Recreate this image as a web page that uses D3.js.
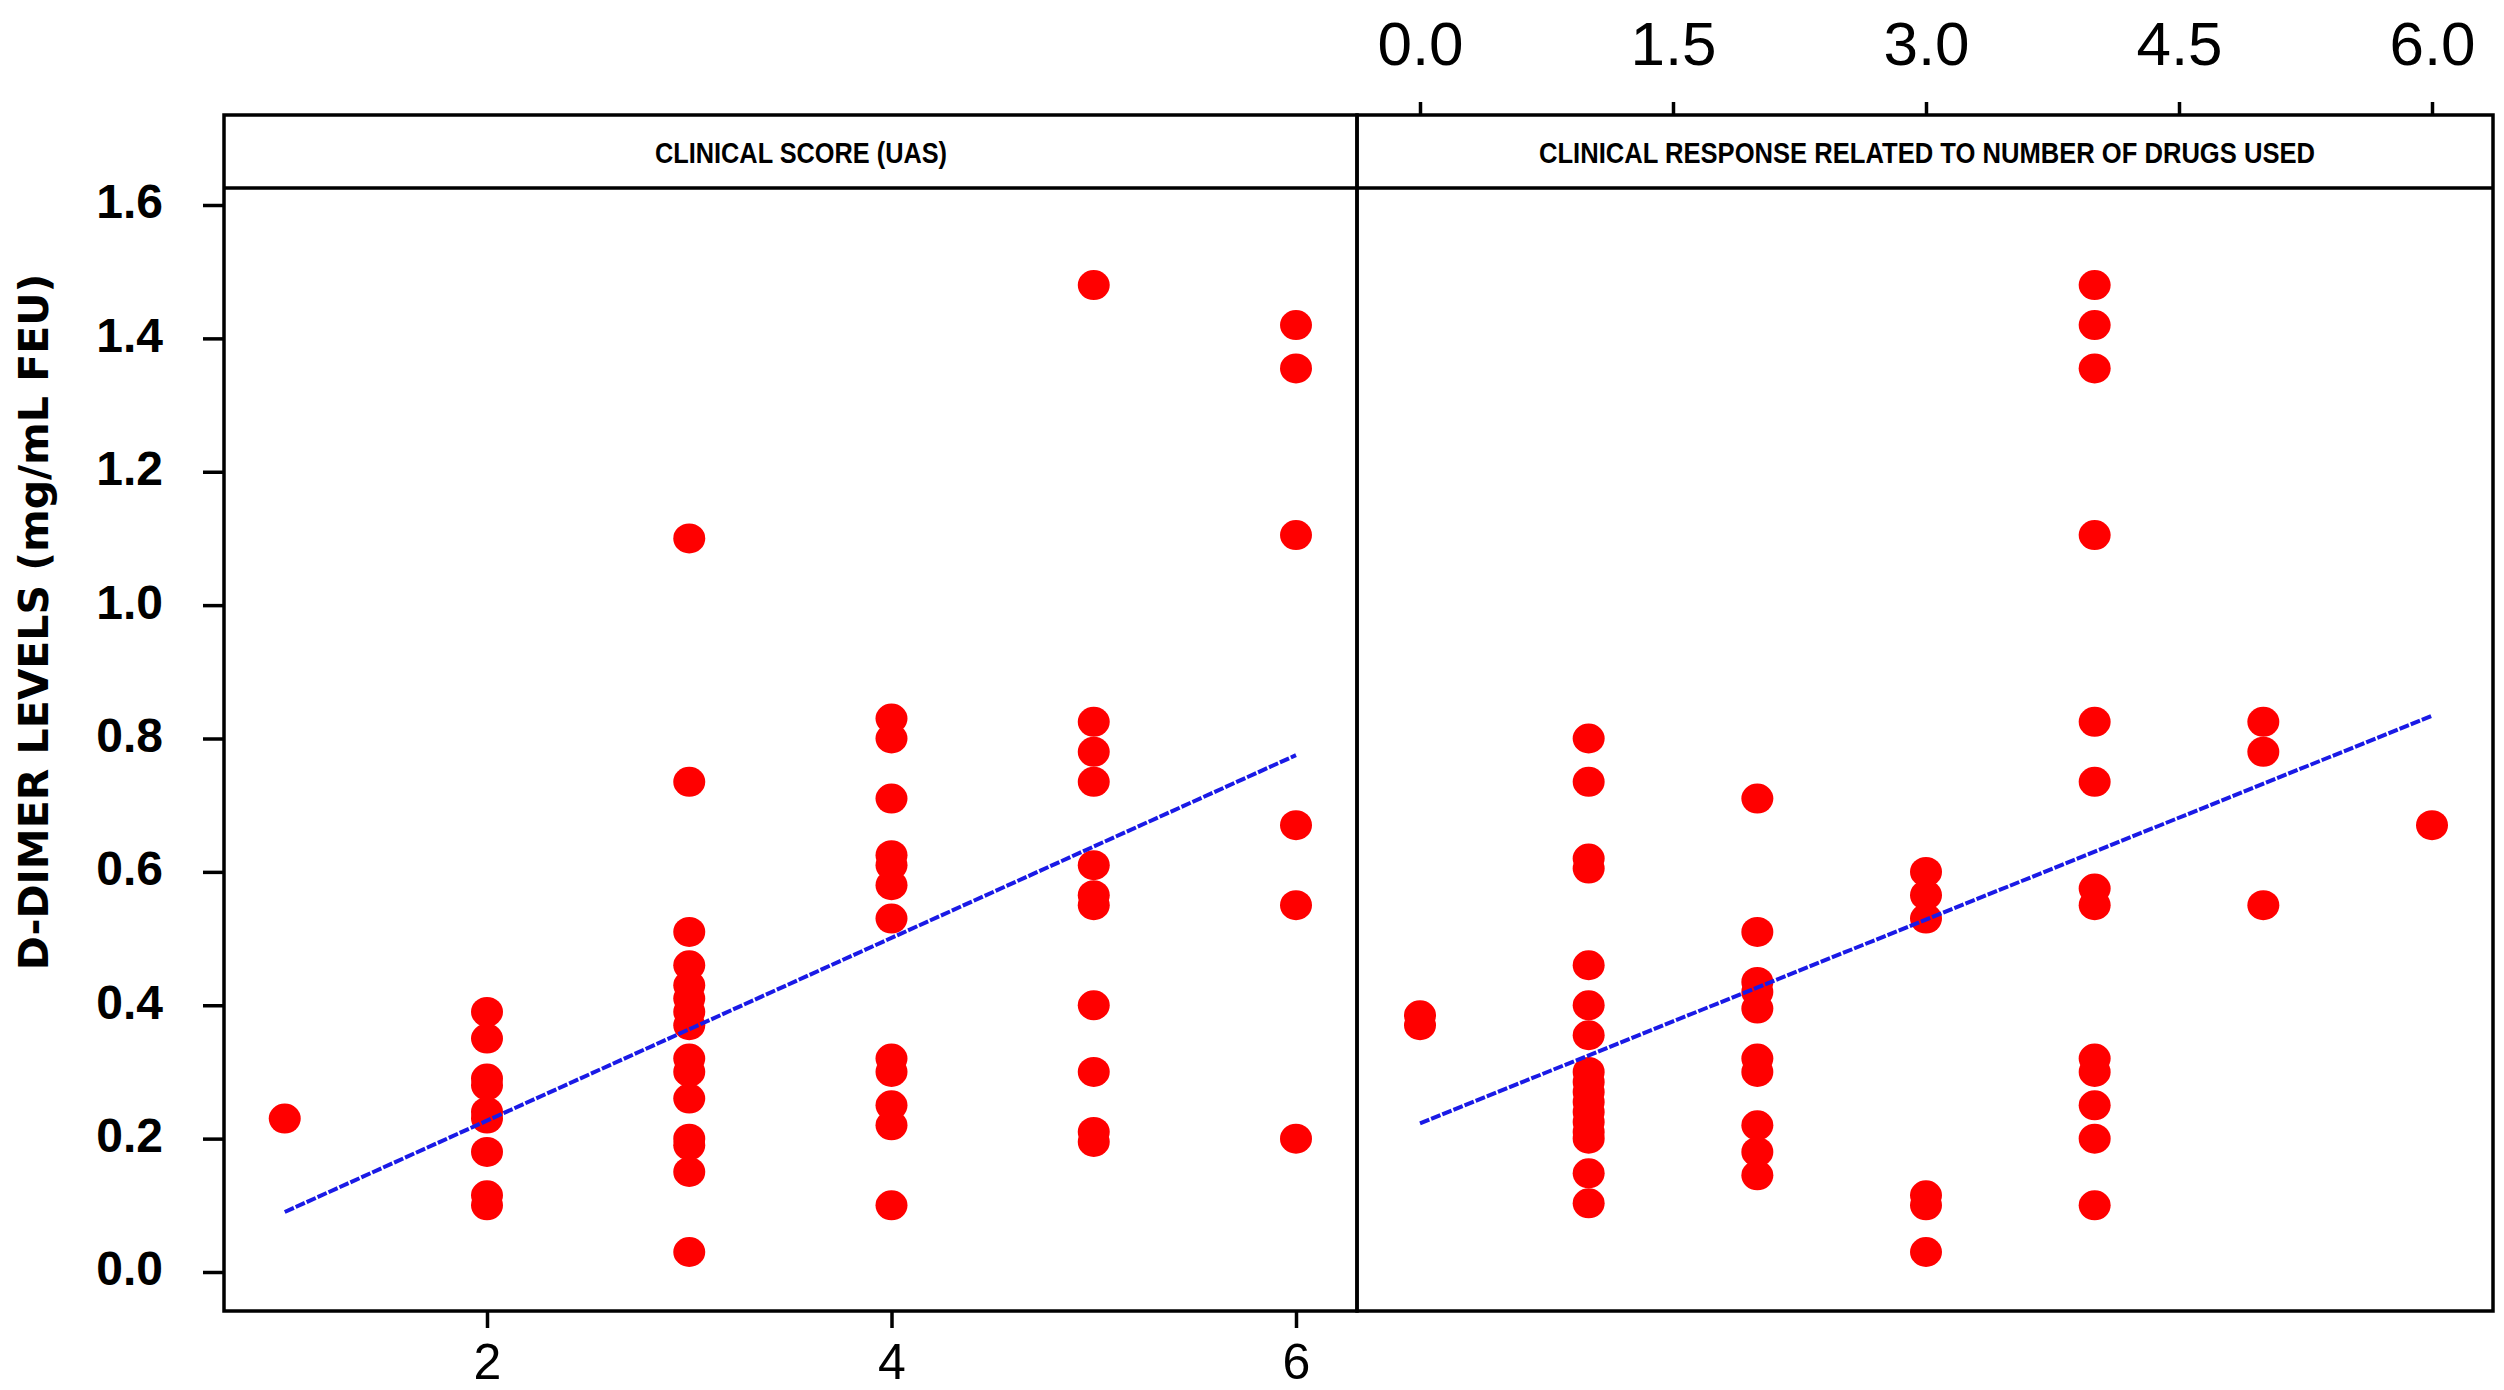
<!DOCTYPE html>
<html>
<head>
<meta charset="utf-8">
<script src="https://cdnjs.cloudflare.com/ajax/libs/d3/7.8.5/d3.min.js"></script>
<style>
  body { margin: 0; background: #fff; }
</style>
</head>
<body>
<div id="chart"></div>
<script>
// ---- data ----
const uasScores = [1, 2, 3, 4, 5, 6];
const uasDimer = [
  [0.23],
  [0.39, 0.35, 0.29, 0.28, 0.24, 0.23, 0.18, 0.115, 0.10],
  [1.10, 0.735, 0.51, 0.46, 0.43, 0.41, 0.39, 0.37, 0.32, 0.30, 0.26, 0.20, 0.19, 0.15, 0.03],
  [0.83, 0.80, 0.71, 0.625, 0.61, 0.58, 0.53, 0.32, 0.30, 0.25, 0.22, 0.10],
  [1.48, 0.825, 0.78, 0.735, 0.61, 0.565, 0.55, 0.40, 0.30, 0.21, 0.195],
  [1.42, 1.355, 1.105, 0.67, 0.55, 0.20]
];
const drugCounts = [0, 1, 2, 3, 4, 5, 6];
const drugDimer = [
  [0.385, 0.37],
  [0.80, 0.735, 0.62, 0.605, 0.46, 0.40, 0.355, 0.30, 0.285, 0.27, 0.255, 0.24, 0.225, 0.21, 0.20, 0.148, 0.103],
  [0.71, 0.51, 0.435, 0.42, 0.395, 0.32, 0.30, 0.22, 0.18, 0.145],
  [0.60, 0.565, 0.53, 0.115, 0.10, 0.03],
  [1.48, 1.42, 1.355, 1.105, 0.825, 0.735, 0.575, 0.55, 0.32, 0.30, 0.25, 0.20, 0.10],
  [0.825, 0.78, 0.55],
  [0.67]
];
// fitted lines (end points)
const uasFitX = [1, 6];
const uasFitY = [0.09, 0.775];
const drugFitX = [0, 6];
const drugFitY = [0.223, 0.834];

const yTicks = [0, 0.2, 0.4, 0.6, 0.8, 1.0, 1.2, 1.4, 1.6];
const uasTicks = [2, 4, 6];
const drugTicks = [0, 1.5, 3, 4.5, 6];
const panelTitles = ["CLINICAL SCORE (UAS)", "CLINICAL RESPONSE RELATED TO NUMBER OF DRUGS USED"];
const yTitle = "D-DIMER LEVELS (mg/mL FEU)";

// ---- layout ----
const W = 2504, H = 1390;
const panelTop = 115, stripBottom = 188, panelBottom = 1311;
const leftX0 = 224, midX = 1357, rightX1 = 2493;

const svg = d3.select('#chart').append('svg')
  .attr('width', W)
  .attr('height', H)
  .style('background-color', 'white');

let y = d3.scaleLinear().domain([0, 1.6]).range([1272, 205]);
let xL = d3.scaleLinear().domain([2, 6]).range([487, 1296]);
let xR = d3.scaleLinear().domain([0, 6]).range([1420, 2432]);

const narrow = '"Liberation Sans Narrow", "Arial Narrow", "Liberation Sans", sans-serif';

// panel boxes
[[leftX0, midX], [midX, rightX1]].forEach(function(p) {
  svg.append('rect')
    .attr('x', p[0]).attr('y', panelTop)
    .attr('width', p[1] - p[0]).attr('height', panelBottom - panelTop)
    .attr('fill', 'none').attr('stroke', '#000').attr('stroke-width', 3.5);
  svg.append('line')
    .attr('x1', p[0]).attr('x2', p[1])
    .attr('y1', stripBottom).attr('y2', stripBottom)
    .attr('stroke', '#000').attr('stroke-width', 3.5);
});

// strip titles
const stripCx = [801, 1927];
const stripW = [292, 776];
panelTitles.forEach(function(t, i) {
  svg.append('text')
    .attr('x', stripCx[i] - stripW[i] / 2)
    .attr('y', 163)
    .attr('textLength', stripW[i])
    .attr('lengthAdjust', 'spacingAndGlyphs')
    .style('font-family', narrow)
    .style('font-weight', 'bold')
    .style('font-size', '29px')
    .text(t);
});

// y axis (left)
const yAxis = svg.append('g')
  .attr('transform', 'translate(' + leftX0 + ',0)')
  .call(d3.axisLeft(y).tickValues(yTicks).tickSize(21).tickPadding(40).tickFormat(d3.format('.1f')));
yAxis.select('.domain').remove();
yAxis.selectAll('line').attr('stroke', '#000').attr('stroke-width', 3.5);
yAxis.selectAll('text')
  .attr('dy', '0.27em')
  .style('font-family', '"Liberation Sans", Arial, sans-serif')
  .style('font-weight', 'bold')
  .style('font-size', '48px')
  .attr('fill', '#000');

// bottom axis (left panel)
const xAxisB = svg.append('g')
  .attr('transform', 'translate(0,' + panelBottom + ')')
  .call(d3.axisBottom(xL).tickValues(uasTicks).tickSize(17).tickPadding(15).tickFormat(d3.format('d')));
xAxisB.select('.domain').remove();
xAxisB.selectAll('line').attr('stroke', '#000').attr('stroke-width', 3.5);
xAxisB.selectAll('text')
  .style('font-family', '"Liberation Sans", Arial, sans-serif')
  .style('font-size', '50px')
  .attr('fill', '#000');

// top axis (right panel)
const xAxisT = svg.append('g')
  .attr('transform', 'translate(0,' + panelTop + ')')
  .call(d3.axisTop(xR).tickValues(drugTicks).tickSize(13).tickPadding(37).tickFormat(d3.format('.1f')));
xAxisT.select('.domain').remove();
xAxisT.selectAll('line').attr('stroke', '#000').attr('stroke-width', 3.5);
xAxisT.selectAll('text')
  .style('font-family', '"Liberation Sans", Arial, sans-serif')
  .style('font-size', '62px')
  .attr('fill', '#000');

// y title
svg.append('text')
  .attr('transform', 'translate(48,622) rotate(-90)')
  .attr('text-anchor', 'middle')
  .style('font-family', '"DejaVu Sans", Verdana, sans-serif')
  .style('font-weight', 'bold')
  .style('font-size', '41px')
  .text(yTitle);

// points
const uasPts = uasScores.flatMap((s, i) => uasDimer[i].map(v => ({x: s, y: v})));
const drugPts = drugCounts.flatMap((s, i) => drugDimer[i].map(v => ({x: s, y: v})));

function fitLine(xs, ys, xScale) {
  svg.append('path')
    .datum(xs.map((d, i) => ({x: d, y: ys[i]})))
    .attr('fill', 'none')
    .attr('stroke', '#1a1ae6')
    .attr('stroke-width', 4)
    .attr('stroke-dasharray', '10,2')
    .attr('d', d3.line().x(d => xScale(d.x)).y(d => y(d.y)));
}

function dots(pts, xScale) {
  svg.append('g').selectAll('.pt')
    .data(pts)
    .enter().append('ellipse')
    .attr('class', 'pt')
    .attr('cx', d => xScale(d.x))
    .attr('cy', d => y(d.y))
    .attr('rx', 16)
    .attr('ry', 15)
    .attr('fill', '#ff0000');
}

dots(uasPts, xL);
dots(drugPts, xR);
fitLine(uasFitX, uasFitY, xL);
fitLine(drugFitX, drugFitY, xR);
</script>
</body>
</html>
